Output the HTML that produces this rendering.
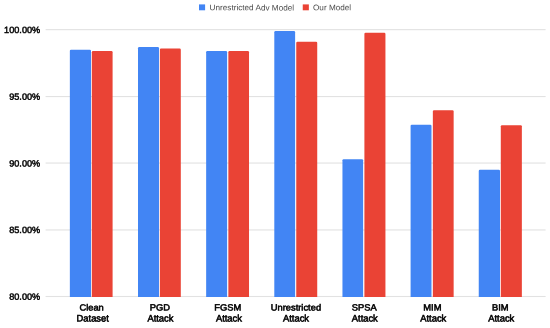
<!DOCTYPE html>
<html><head><meta charset="utf-8"><title>Chart</title>
<style>
html,body{margin:0;padding:0;background:#fff;}
body{width:550px;height:328px;overflow:hidden;}
svg{display:block}
text{font-family:"Liberation Sans",Arial,sans-serif;}
.xl{font-size:9.35px;fill:#000;text-anchor:middle;stroke:#000;stroke-width:0.55px}
.yl{font-size:9.15px;fill:#000;text-anchor:end;stroke:#000;stroke-width:0.45px}
.lg{font-size:8.18px;fill:#4a4a4a;}
</style></head><body>
<svg width="550" height="328" viewBox="0 0 550 328">
<rect width="550" height="328" fill="#fff"/>
<rect x="45.6" y="29.10" width="500.0" height="1.1" fill="#e2e2e2"/>
<rect x="45.6" y="96.00" width="500.0" height="1.1" fill="#e2e2e2"/>
<rect x="45.6" y="162.50" width="500.0" height="1.1" fill="#e2e2e2"/>
<rect x="45.6" y="229.40" width="500.0" height="1.1" fill="#e2e2e2"/>
<rect x="45.6" y="295.95" width="500.0" height="1.1" fill="#e2e2e2"/>
<path d="M69.85 297.0V50.96Q69.85 49.76 71.05 49.76H89.80Q91.00 49.76 91.00 50.96V297.0Z" fill="#4285f4"/>
<path d="M91.80 297.0V52.29Q91.80 51.09 93.00 51.09H111.40Q112.60 51.09 112.60 52.29V297.0Z" fill="#ea4335"/>
<text class="xl" transform="translate(91.60 310.45) rotate(0.03) scale(1 0.96)">Clean</text>
<text class="xl" transform="translate(92.70 321.55) rotate(0.03) scale(1 1.02)">Dataset</text>
<path d="M138.00 297.0V48.29Q138.00 47.09 139.20 47.09H157.80Q159.00 47.09 159.00 48.29V297.0Z" fill="#4285f4"/>
<path d="M159.85 297.0V49.63Q159.85 48.43 161.05 48.43H179.61Q180.81 48.43 180.81 49.63V297.0Z" fill="#ea4335"/>
<text class="xl" transform="translate(159.80 310.45) rotate(0.03) scale(1 0.96)">PGD</text>
<text class="xl" transform="translate(160.40 321.55) rotate(0.03) scale(1 1.02)">Attack</text>
<path d="M206.15 297.0V52.29Q206.15 51.09 207.35 51.09H225.92Q227.12 51.09 227.12 52.29V297.0Z" fill="#4285f4"/>
<path d="M228.35 297.0V52.29Q228.35 51.09 229.55 51.09H247.82Q249.02 51.09 249.02 52.29V297.0Z" fill="#ea4335"/>
<text class="xl" transform="translate(227.80 310.45) rotate(0.03) scale(1 0.96)">FGSM</text>
<text class="xl" transform="translate(228.90 321.55) rotate(0.03) scale(1 1.02)">Attack</text>
<path d="M274.30 297.0V32.28Q274.30 31.08 275.50 31.08H293.92Q295.12 31.08 295.12 32.28V297.0Z" fill="#4285f4"/>
<path d="M296.25 297.0V42.96Q296.25 41.76 297.45 41.76H316.03Q317.23 41.76 317.23 42.96V297.0Z" fill="#ea4335"/>
<text class="xl" transform="translate(295.90 310.45) rotate(0.03) scale(1 0.96)">Unrestricted</text>
<text class="xl" transform="translate(296.00 321.55) rotate(0.03) scale(1 1.02)">Attack</text>
<path d="M342.45 297.0V160.35Q342.45 159.15 343.65 159.15H361.92Q363.12 159.15 363.12 160.35V297.0Z" fill="#4285f4"/>
<path d="M364.40 297.0V33.88Q364.40 32.68 365.60 32.68H384.24Q385.44 32.68 385.44 33.88V297.0Z" fill="#ea4335"/>
<text class="xl" transform="translate(364.20 310.45) rotate(0.03) scale(1 0.96)">SPSA</text>
<text class="xl" transform="translate(364.80 321.55) rotate(0.03) scale(1 1.02)">Attack</text>
<path d="M410.60 297.0V126.06Q410.60 124.86 411.80 124.86H430.30Q431.50 124.86 431.50 126.06V297.0Z" fill="#4285f4"/>
<path d="M432.85 297.0V111.52Q432.85 110.32 434.05 110.32H452.45Q453.65 110.32 453.65 111.52V297.0Z" fill="#ea4335"/>
<text class="xl" transform="translate(432.40 310.45) rotate(0.03) scale(1 0.96)">MIM</text>
<text class="xl" transform="translate(433.25 321.55) rotate(0.03) scale(1 1.02)">Attack</text>
<path d="M478.75 297.0V171.02Q478.75 169.82 479.95 169.82H498.80Q500.00 169.82 500.00 171.02V297.0Z" fill="#4285f4"/>
<path d="M500.80 297.0V126.33Q500.80 125.13 502.00 125.13H520.66Q521.86 125.13 521.86 126.33V297.0Z" fill="#ea4335"/>
<text class="xl" transform="translate(500.30 310.45) rotate(0.03) scale(1 0.96)">BIM</text>
<text class="xl" transform="translate(501.25 321.55) rotate(0.03) scale(1 1.02)">Attack</text>
<text class="yl" transform="translate(40.15 33.00) rotate(0.03) scale(1 1)">100.00%</text>
<text class="yl" transform="translate(40.15 99.70) rotate(0.03) scale(1 1)">95.00%</text>
<text class="yl" transform="translate(40.15 166.40) rotate(0.03) scale(1 1)">90.00%</text>
<text class="yl" transform="translate(40.15 233.10) rotate(0.03) scale(1 1)">85.00%</text>
<text class="yl" transform="translate(40.15 299.80) rotate(0.03) scale(1 1)">80.00%</text>
<rect x="199.0" y="4.4" width="6.1" height="5.9" fill="#4285f4"/>
<text class="lg" transform="translate(209.60 10.35) rotate(0.03) scale(1 1)">Unrestricted Adv Model</text>
<rect x="302.75" y="4.4" width="6.1" height="5.9" fill="#ea4335"/>
<text class="lg" transform="translate(313.00 10.35) rotate(0.03) scale(1 1)">Our Model</text>
</svg>
</body></html>
